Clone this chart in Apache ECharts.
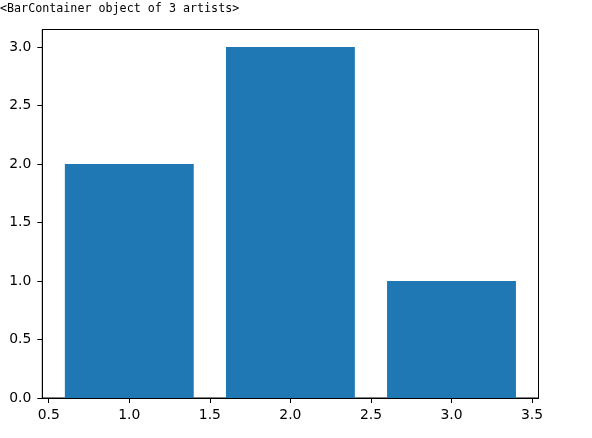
<!DOCTYPE html>
<html>
<head>
<meta charset="utf-8">
<script src="https://cdn.jsdelivr.net/npm/echarts@6/dist/echarts.min.js"></script>
<style>
html,body{margin:0;padding:0;background:#fff;}
#chart{width:592px;height:438px;}
</style>
</head>
<body>
<div id="chart"></div>
<script>
const titleText = '<BarContainer object of 3 artists>';
const xPositions = [1, 2, 3];
const barHeights = [2, 3, 1];
const xTicks = [0.5, 1.0, 1.5, 2.0, 2.5, 3.0, 3.5];
const yTicks = [0.0, 0.5, 1.0, 1.5, 2.0, 2.5, 3.0];

const barWidth = 0.8;
const data = xPositions.map((x, i) => [x, barHeights[i]]);
const font = 'DejaVu Sans';
const fs = 13.9;

const chart = echarts.init(document.getElementById('chart'), null, {renderer: 'canvas'});
chart.setOption({
  animation: false,
  backgroundColor: '#fff',
  title: {
    text: titleText,
    left: 0,
    top: 3,
    padding: 0,
    textStyle: {fontFamily: 'DejaVu Sans Mono', fontSize: 11.7, fontWeight: 'normal', color: '#000'}
  },
  grid: {
    left: 42.3, right: 53.5, top: 29.5, bottom: 40,
    show: true, borderColor: '#000', borderWidth: 1, backgroundColor: 'transparent'
  },
  xAxis: {
    type: 'value',
    min: 0.46, max: 3.54,
    splitLine: {show: false},
    axisLine: {show: true, lineStyle: {color: '#000', width: 1}},
    axisTick: {show: true, length: 5, lineStyle: {color: '#000', width: 1}, customValues: xTicks},
    axisLabel: {
      customValues: xTicks, margin: 10.5, color: '#000', fontFamily: font, fontSize: fs,
      formatter: v => Number(v).toFixed(1)
    }
  },
  yAxis: {
    type: 'value',
    min: 0, max: 3.15,
    splitLine: {show: false},
    axisLine: {show: true, lineStyle: {color: '#000', width: 1}},
    axisTick: {show: true, length: 5, lineStyle: {color: '#000', width: 1}, customValues: yTicks},
    axisLabel: {
      customValues: yTicks, margin: 11, color: '#000', fontFamily: font, fontSize: fs,
      formatter: v => Number(v).toFixed(1)
    }
  },
  series: [{
    type: 'custom',
    data: data,
    encode: {x: 0, y: 1},
    renderItem: function (params, api) {
      const x = api.value(0), h = api.value(1);
      const p0 = api.coord([x - barWidth / 2, h]);
      const p1 = api.coord([x + barWidth / 2, 0]);
      return {
        type: 'rect',
        shape: {x: p0[0], y: p0[1], width: p1[0] - p0[0], height: p1[1] - p0[1]},
        style: {fill: '#1f77b4'}
      };
    }
  }]
});
</script>
</body>
</html>
